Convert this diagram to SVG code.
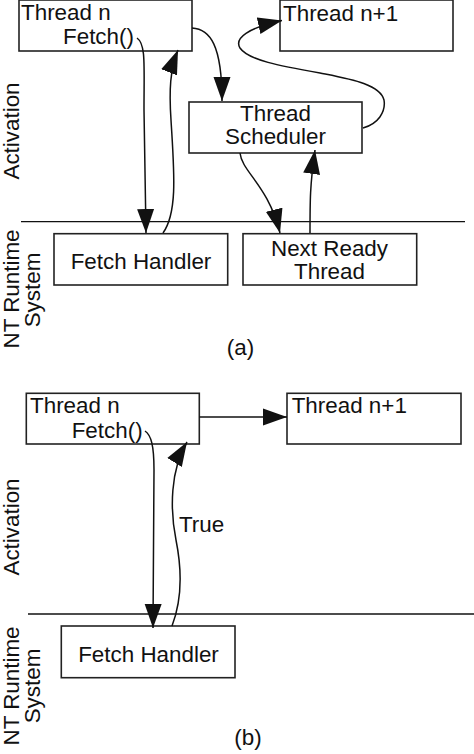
<svg xmlns="http://www.w3.org/2000/svg" width="474" height="754" viewBox="0 0 474 754">
<style>
.box{fill:#fff;stroke:#222;stroke-width:1.6}
.t{font-family:"Liberation Sans",Arial,sans-serif;font-size:22.4px;fill:#111}
.m{text-anchor:middle}
.c{fill:none;stroke:#111;stroke-width:1.5}
.sep{stroke:#111;stroke-width:1.3}
</style>
<defs>
<marker id="ah" markerUnits="userSpaceOnUse" markerWidth="25" markerHeight="18" refX="24" refY="8.5" orient="auto" viewBox="0 0 25 17">
<path d="M0,0 L24,8.5 L0,17 z" fill="#111"/>
</marker>
</defs>
<rect width="474" height="754" fill="#fff"/>

<g id="labels">
<text class="t m" transform="translate(18.5,131) rotate(-90)">Activation</text>
<text class="t m" transform="translate(18.5,289) rotate(-90)">NT Runtime</text>
<text class="t m" transform="translate(40,290) rotate(-90)">System</text>
<text class="t m" x="240.5" y="355">(a)</text>
<text class="t m" transform="translate(18.5,527) rotate(-90)">Activation</text>
<text class="t m" transform="translate(18.5,686) rotate(-90)">NT Runtime</text>
<text class="t m" transform="translate(40,686) rotate(-90)">System</text>
<text class="t m" x="248" y="745">(b)</text>
</g>

<g id="separators">
<line class="sep" x1="21" y1="221.7" x2="465" y2="221.7"/>
<line class="sep" x1="28" y1="614" x2="474" y2="614"/>
</g>

<g id="a-thread-n">
<rect class="box" x="19" y="0" width="173" height="51"/>
<text class="t" x="21" y="20">Thread n</text>
<text class="t" x="63" y="44">Fetch()</text>
</g>
<g id="a-thread-n1">
<rect class="box" x="280" y="0" width="173" height="51"/>
<text class="t" x="283" y="20.5">Thread n+1</text>
</g>
<g id="a-scheduler">
<rect class="box" x="189" y="102" width="173" height="51"/>
<text class="t m" x="275.5" y="121">Thread</text>
<text class="t m" x="275.5" y="143.5">Scheduler</text>
</g>
<g id="a-fetch-handler">
<rect class="box" x="54" y="233.7" width="173.7" height="51.3"/>
<text class="t m" x="141" y="269">Fetch Handler</text>
</g>
<g id="a-next-ready">
<rect class="box" x="243" y="233.7" width="173.7" height="51.3"/>
<text class="t m" x="329.5" y="256">Next Ready</text>
<text class="t m" x="329.5" y="278.5">Thread</text>
</g>

<g id="b-thread-n">
<rect class="box" x="26.3" y="393.3" width="173" height="50.7"/>
<text class="t" x="30" y="412.7">Thread n</text>
<text class="t" x="71.7" y="438">Fetch()</text>
</g>
<g id="b-thread-n1">
<rect class="box" x="287" y="393.3" width="174" height="50.7"/>
<text class="t" x="291.7" y="412.7">Thread n+1</text>
</g>
<g id="b-fetch-handler">
<rect class="box" x="61.3" y="626" width="173.7" height="51.7"/>
<text class="t m" x="148.5" y="661.7">Fetch Handler</text>
</g>

<g id="connectors">
<path class="c" marker-end="url(#ah)" d="M137,38 C146,44 144,65 144,110 L146,233"/>
<path class="c" marker-end="url(#ah)" d="M163,233 C178,212 174,170 171,120 C169,90 170,70 178,50"/>
<path class="c" marker-end="url(#ah)" d="M192,28 C210,29 222,45 222,101"/>
<path class="c" marker-end="url(#ah)" d="M363,128 C378,124 386,112 384,100 C380,84 350,79 320,73 C280,66 248,60 240,48 C234,38 248,28 282,20.5"/>
<path class="c" marker-end="url(#ah)" d="M240,153 C242,172 268,185 280,233"/>
<path class="c" marker-end="url(#ah)" d="M310,233 C310,200 310,185 315,150"/>
<path class="c" marker-end="url(#ah)" d="M145,431 C151,435 154,445 154,470 L153,628"/>
<path class="c" marker-end="url(#ah)" d="M172,626 C182,600 182,570 176,540 C170,510 170,470 187,442"/>
<path class="c" marker-end="url(#ah)" d="M199.3,417 L287,417"/>
<text class="t" x="179" y="531.7">True</text>
</g>
</svg>
